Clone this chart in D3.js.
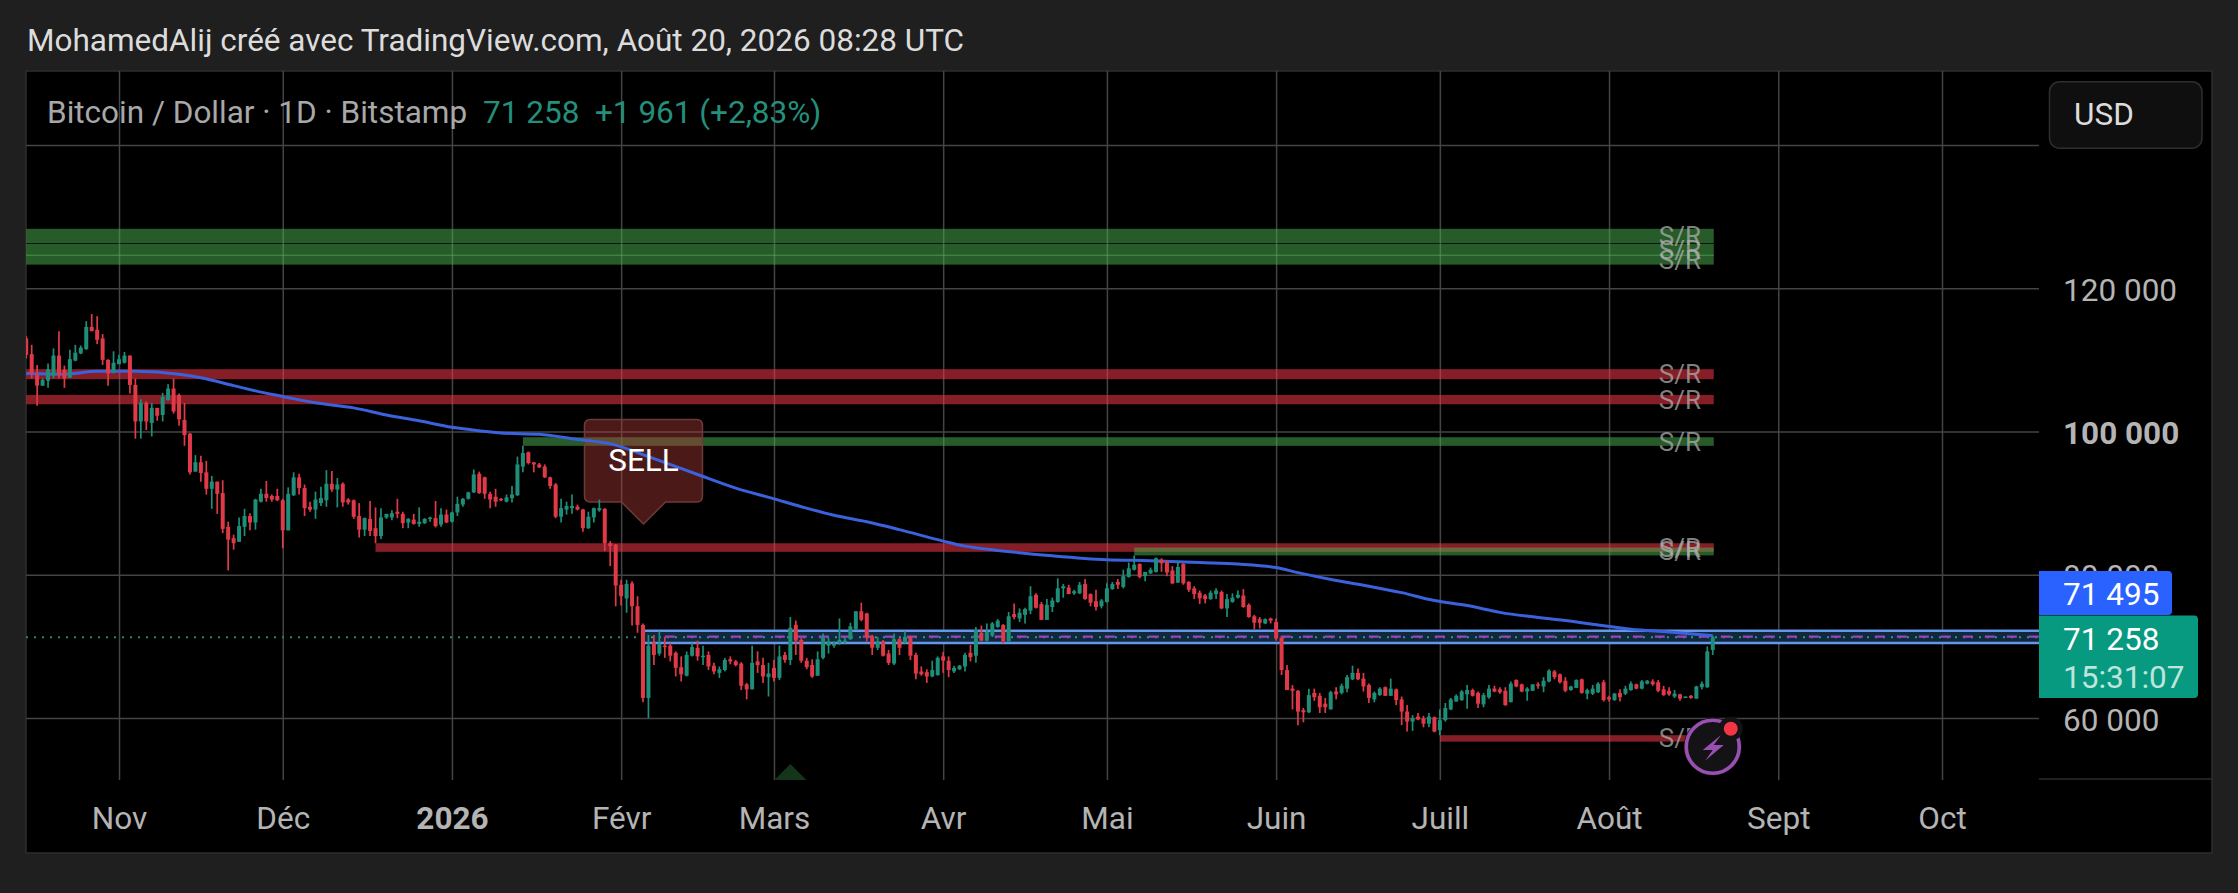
<!DOCTYPE html>
<html lang="fr">
<head>
<meta charset="utf-8">
<title>Bitcoin / Dollar</title>
<script src="https://cdn.jsdelivr.net/npm/d3@7"></script>
<style>
    html, body { margin: 0; padding: 0; background: #1f1f1f; }
    svg { display: block; font-family: Roboto, sans-serif; }
</style>
</head>
<body>
<div id="chart"></div>
<script>
// Daily candles from 2025-10-15, prices in thousand USD
const firstDay = "2025-10-15";
const opens = [
    113.0,110.8,107.9,106.4,107.1,107.8,110.6,108.6,107.5,109.9,
    110.9,111.5,114.6,114.2,113.0,110.0,108.2,109.4,109.6,110.6,
    106.5,101.4,104.0,101.2,103.3,102.3,104.4,106.0,105.1,101.6,
    99.7,94.4,95.7,94.3,92.0,93.0,91.4,86.7,85.1,84.6,
    86.7,88.2,87.3,90.2,91.3,91.0,91.0,90.4,86.2,91.1,
    93.6,92.1,89.5,89.1,90.0,90.4,92.7,91.9,92.7,90.5,
    90.4,88.2,86.3,87.8,86.5,85.4,88.0,88.0,88.8,88.5,
    87.3,87.7,87.1,87.2,87.8,87.9,87.0,88.4,87.4,88.7,
    89.8,90.6,91.5,94.1,93.6,91.3,90.9,90.6,90.2,90.7,
    91.1,95.1,97.1,95.7,95.4,95.1,93.6,92.6,88.1,89.1,
    89.3,89.5,89.1,86.5,88.0,89.0,89.2,84.4,84.2,78.6,
    76.7,78.8,75.6,73.0,62.8,70.5,69.0,70.1,70.1,69.1,
    67.1,65.9,68.7,69.8,68.6,68.8,67.3,66.3,66.7,68.2,
    67.9,67.6,64.7,64.0,67.9,67.4,65.7,67.0,65.6,68.8,
    68.1,73.0,70.9,68.0,67.4,65.9,68.4,70.1,70.1,70.5,
    70.7,71.0,72.4,74.9,74.6,71.4,69.8,70.7,69.0,67.6,
    71.0,70.5,71.3,68.8,66.5,66.4,65.8,66.0,68.6,68.0,
    66.5,66.8,67.2,69.1,68.7,71.9,70.8,71.5,72.7,73.0,
    70.7,74.5,73.9,74.4,75.0,77.2,75.9,73.7,75.5,76.2,
    78.1,78.2,77.4,77.4,78.7,77.3,76.3,75.6,76.2,78.0,
    79.0,78.3,79.7,80.7,81.5,79.8,80.2,80.4,82.1,81.8,
    80.6,78.9,81.5,79.0,78.1,77.5,77.1,76.6,77.3,77.6,
    75.3,76.2,76.8,77.1,75.8,74.2,73.8,73.2,73.9,73.4,
    71.2,66.7,64.1,63.8,61.1,60.8,63.5,63.1,62.0,61.2,
    63.7,63.5,64.1,65.4,66.3,65.5,64.6,62.6,63.2,64.3,
    63.1,64.0,62.6,60.9,59.5,60.2,59.9,59.2,60.1,58.3,
    59.7,61.2,62.3,62.5,63.3,63.9,63.5,61.9,62.9,64.1,
    64.0,63.8,62.2,65.3,64.7,63.7,63.8,64.7,64.4,65.1,
    66.5,66.1,65.2,63.9,64.2,65.4,63.4,63.4,63.6,65.0,
    62.9,62.5,63.5,63.4,63.9,64.7,64.1,64.8,65.1,65.0,
    64.0,63.8,63.0,63.3,62.9,63.1,62.7,64.3,64.3,69.5
];
const highs = [
    113.3,112.1,109.3,107.4,109.5,111.6,114.0,109.2,111.4,112.1,
    112.0,115.4,116.4,116.1,113.6,110.1,111.2,110.7,111.1,110.6,
    107.4,104.5,104.2,104.0,103.3,105.4,106.6,107.4,105.3,104.0,
    99.8,96.7,96.6,95.9,93.8,93.0,93.2,87.4,85.6,88.0,
    89.2,88.6,90.6,92.0,93.1,91.2,92.0,90.6,92.2,94.3,
    94.1,92.6,90.2,91.6,92.3,94.6,94.5,93.5,92.9,90.7,
    90.5,90.0,88.0,90.3,89.4,89.3,88.5,89.0,90.6,88.8,
    87.9,88.5,89.4,87.9,88.1,90.3,89.3,89.1,88.8,90.9,
    90.7,91.6,94.7,94.4,93.7,91.6,92.0,90.7,91.2,92.4,
    96.5,98.0,97.2,95.7,95.6,95.4,93.7,92.8,90.6,90.2,
    91.2,89.8,89.2,88.8,89.4,90.5,89.3,84.7,84.3,79.3,
    79.3,79.1,77.0,73.2,71.6,71.6,72.1,71.3,70.5,69.3,
    68.6,69.3,70.5,70.8,70.1,69.3,67.7,67.2,68.4,68.6,
    68.1,67.8,64.9,70.1,69.3,68.4,67.7,68.1,70.1,69.2,
    74.1,73.6,71.2,68.4,68.2,69.3,71.8,71.2,70.7,73.9,
    71.3,73.3,74.9,76.1,74.7,71.6,71.3,70.9,69.5,71.8,
    71.2,72.1,71.4,69.1,67.2,66.8,68.0,68.6,69.2,68.6,
    67.3,67.4,69.1,70.2,72.7,72.9,73.2,73.4,73.8,73.1,
    74.8,76.0,75.3,75.4,78.4,77.4,76.2,76.6,76.8,79.5,
    78.7,78.6,77.9,79.0,79.4,77.4,77.9,76.6,78.8,79.0,
    79.4,80.7,81.7,82.7,81.6,80.4,81.0,82.4,82.3,82.0,
    81.2,81.9,81.6,79.1,78.4,77.8,77.3,77.8,78.1,77.8,
    77.3,77.4,77.8,78.0,76.0,74.4,74.1,73.9,74.0,73.9,
    71.4,67.4,64.6,63.9,61.4,64.1,64.1,63.5,62.8,63.8,
    64.3,64.8,66.0,67.3,66.9,66.3,64.8,63.7,64.3,64.4,
    65.5,64.1,63.0,61.8,60.4,60.7,60.3,60.7,60.2,61.2,
    62.1,62.8,63.3,63.9,64.6,64.1,63.7,63.5,64.6,64.5,
    64.3,64.3,65.1,65.4,64.8,64.3,64.7,65.0,65.7,66.8,
    66.7,66.2,65.7,64.5,65.4,65.5,64.1,64.6,65.0,65.3,
    63.1,63.5,64.0,64.5,65.1,64.8,65.3,65.3,65.4,65.3,
    64.5,64.3,63.9,63.4,63.0,63.2,64.5,65.1,70.0,71.5
];
const lows = [
    110.2,107.4,103.6,106.4,106.1,107.4,107.4,106.1,107.5,109.8,
    110.8,111.4,114.0,112.2,109.3,106.4,108.1,109.4,109.5,105.3,
    99.0,99.0,100.2,99.3,101.5,101.4,104.3,102.5,100.8,98.0,
    94.0,94.4,93.0,91.2,89.2,88.5,85.8,80.6,83.5,84.6,
    85.4,86.2,86.3,90.1,90.2,90.2,90.3,83.7,86.2,91.0,
    91.2,88.2,88.8,87.8,89.6,89.5,91.6,89.4,89.5,89.8,
    87.8,85.2,85.4,85.4,84.4,85.0,87.8,87.6,87.9,86.5,
    86.5,87.0,86.7,87.1,87.4,86.6,86.7,87.2,87.3,88.2,
    89.5,90.5,91.4,91.3,90.6,89.3,89.5,90.3,90.1,90.1,
    91.0,94.3,95.4,94.3,94.9,93.5,92.0,87.9,87.3,88.4,
    88.5,89.0,86.0,86.4,87.3,88.8,83.3,81.2,75.6,75.7,
    74.7,72.9,71.9,62.2,60.0,67.4,68.7,68.4,67.9,65.8,
    65.1,65.8,68.6,68.0,67.4,66.7,66.1,65.6,66.5,67.5,
    67.2,63.9,62.6,64.0,66.3,64.9,63.0,65.1,65.3,67.7,
    67.4,68.8,67.7,66.8,65.6,65.9,68.2,69.0,69.8,70.2,
    70.4,70.9,72.3,73.5,70.7,68.8,69.5,68.6,67.4,67.4,
    68.8,70.4,68.1,65.4,65.9,64.9,65.7,65.9,66.3,65.7,
    66.3,66.7,66.5,67.9,67.7,70.7,70.7,71.3,72.6,70.4,
    70.7,73.8,73.4,73.2,74.5,75.3,73.7,73.7,74.8,76.1,
    76.8,77.3,77.2,77.3,76.5,75.6,75.0,75.3,76.1,77.9,
    78.0,78.1,79.6,80.6,79.5,79.1,80.1,80.3,80.4,79.8,
    78.7,78.9,78.6,77.6,76.6,75.9,76.0,76.5,76.6,75.2,
    74.1,76.1,76.7,75.4,74.0,72.4,72.5,73.1,73.2,70.8,
    66.0,63.9,61.2,59.0,59.4,60.7,62.4,60.7,60.7,61.2,
    62.6,63.3,63.6,65.3,65.3,63.7,62.1,62.2,63.1,63.1,
    63.1,61.8,59.0,58.1,58.2,59.7,58.7,58.7,58.0,57.6,
    59.5,61.1,62.3,62.4,61.3,63.0,61.4,61.5,62.7,63.6,
    63.4,61.7,62.2,64.3,63.6,62.4,63.8,64.1,63.6,65.0,
    65.4,64.8,63.6,63.8,64.2,63.4,62.6,63.2,63.5,62.3,
    62.3,62.4,62.3,63.2,63.8,64.0,64.0,64.7,64.5,63.6,
    63.1,63.1,62.8,62.4,62.9,62.7,62.7,64.0,64.2,68.8
];
const closes = [
    110.7,108.1,106.4,107.2,108.7,110.6,107.9,107.4,110.1,111.0,
    111.7,114.6,114.0,112.8,110.0,108.1,109.6,110.1,110.6,106.5,
    101.4,104.0,101.4,103.3,102.2,104.8,106.0,102.8,101.7,99.5,
    94.3,95.7,94.2,92.0,93.0,91.3,86.4,84.9,84.4,86.8,
    88.2,87.3,90.5,91.3,90.7,90.5,90.4,86.2,91.3,93.6,
    92.1,89.3,89.1,90.5,90.7,92.7,91.9,92.6,90.1,90.1,
    88.1,86.3,87.9,86.1,85.4,88.0,88.5,88.6,88.5,87.2,
    87.8,87.1,87.4,87.8,88.0,86.8,88.4,87.3,88.7,89.9,
    90.6,91.5,94.0,91.4,91.3,90.5,90.2,90.4,90.8,91.2,
    95.4,97.0,95.6,95.4,95.0,93.6,92.4,88.1,89.3,89.6,
    89.6,89.1,86.5,88.1,89.3,89.3,84.4,84.0,78.5,77.0,
    78.7,75.6,73.0,62.8,70.1,68.8,70.3,69.9,68.7,67.0,
    66.1,68.8,69.9,68.6,68.7,67.2,66.5,66.8,68.1,67.9,
    67.4,64.5,64.0,67.7,67.4,65.8,66.2,65.6,68.6,68.1,
    72.6,70.8,68.0,67.1,65.8,68.2,71.2,70.7,70.4,70.9,
    70.8,72.8,74.9,73.7,71.3,69.8,70.7,68.7,67.7,71.0,
    69.8,71.3,68.7,66.2,66.1,65.8,66.7,68.4,68.0,66.7,
    67.0,67.3,68.8,68.5,72.3,70.8,72.0,73.2,73.6,70.7,
    74.2,74.1,74.7,75.2,77.0,75.4,73.7,75.8,76.4,78.1,
    78.4,77.3,77.7,78.6,76.6,76.1,75.5,76.4,78.1,78.7,
    78.6,79.8,80.9,81.4,79.7,80.4,80.7,82.3,81.6,80.3,
    78.8,81.1,78.8,77.9,77.3,76.7,76.6,77.5,77.8,75.3,
    76.6,76.8,77.2,75.5,74.1,73.3,73.3,73.8,73.6,71.1,
    66.7,63.9,63.8,60.9,60.8,63.2,62.9,61.5,61.5,63.6,
    63.3,64.5,65.7,66.3,65.4,64.4,62.8,63.5,64.1,63.1,
    64.1,62.5,60.9,59.5,60.0,59.8,59.2,60.2,58.1,59.7,
    61.4,62.6,63.1,63.7,63.9,63.1,62.0,63.2,64.1,63.7,
    63.6,61.8,64.8,64.4,63.7,64.1,64.7,64.5,65.2,66.6,
    65.7,65.0,63.8,64.4,65.3,63.5,63.9,64.1,64.8,62.5,
    62.6,63.4,62.9,64.1,64.8,64.1,65.1,65.2,64.7,63.8,
    63.2,63.3,63.4,62.7,63.0,62.8,64.4,64.8,69.3,71.26
];

// Moving average, read at these candle numbers
const emaDays = [0,7,13,20,28,32,38,43,47,53,60,66,72,78,81,87,94,100,108,114,123,130,137,142,148,154,160,168,172,178,188,198,206,215,222,229,233,240,246,252,258,264,270,282,294,301,309];
const emaValues = [108.1,108.0,108.4,108.4,108.0,107.5,106.4,105.5,104.9,104.0,103.3,102.3,101.5,100.6,100.3,99.8,99.6,99.0,98.1,96.5,94.0,92.1,90.6,89.5,88.3,87.4,86.3,84.7,84.0,83.4,82.65,82.1,81.96,81.7,81.5,81.0,80.3,79.2,78.4,77.5,76.4,75.7,74.75,73.6,72.4,72.0,71.495];

// S/R zones
const srTops = [128.3,126.2,124.7,108.7,105.1,99.2,84.4,83.8,57.6];
const srBottoms = [126.3,124.5,123.3,107.3,103.8,98.0,83.2,82.7,56.7];
const srStarts = [0,0,0,0,0,91,64,203,259];
const srKinds = ["up","up","up","down","down","up","down","up","down"];

// Range box around the last price
const rangeTop = 72.19, rangeBottom = 70.47, rangeMid = 71.35;
const rangeStart = 113, rangeMidStart = 117;

const lastPrice = 71.258;
const emaLast = "71 495";
const closeLabel = "71 258";
const countdown = "15:31:07";
const signalDay = "2026-03-04";
const sellDay = 113;

const priceTicks = [140, 120, 100, 80, 60];
const boldPrice = 100;
const monthTicks = ["2025-11-01","2025-12-01","2026-01-01","2026-02-01","2026-03-01","2026-04-01","2026-05-01","2026-06-01","2026-07-01","2026-08-01","2026-09-01","2026-10-01"];
const monthLabels = ["Nov","Déc","2026","Févr","Mars","Avr","Mai","Juin","Juill","Août","Sept","Oct"];

const width = 2238, height = 893;
const pane = { left: 26, right: 2039, top: 71, bottom: 780, outer: 2212, frameBottom: 853 };
const labelSize = 31.5;

const parseDay = d3.utcParse("%Y-%m-%d");
const dayOf = i => d3.utcDay.offset(parseDay(firstDay), i);

const x = d3.scaleUtc()
    .domain([parseDay("2025-11-01"), parseDay("2026-10-01")])
    .range([119, 1942]);
const y = d3.scaleLinear()
    .domain([60, 140])
    .range([718, 145]);

const formatPrice = k => d3.format(",")(k * 1000).replace(",", " ");

const svg = d3.select("#chart").append("svg")
    .attr("width", width)
    .attr("height", height)
    .attr("viewBox", [0, 0, width, height]);

svg.append("rect").attr("width", width).attr("height", height).attr("fill", "#1f1f1f");

svg.append("text")
    .attr("x", 27).attr("y", 51)
    .attr("font-size", labelSize).attr("fill", "#dcdcdc")
    .text("MohamedAlij créé avec TradingView.com, Août 20, 2026 08:28 UTC");

svg.append("rect")
    .attr("x", pane.left).attr("y", pane.top)
    .attr("width", pane.outer - pane.left).attr("height", pane.frameBottom - pane.top)
    .attr("fill", "#000").attr("stroke", "#2e2e2e").attr("stroke-width", 1.5);

svg.append("clipPath").attr("id", "paneClip").append("rect")
    .attr("x", pane.left).attr("y", pane.top)
    .attr("width", pane.right - pane.left).attr("height", pane.bottom - pane.top);

// Grid, drawn by the axes themselves
const monthDates = monthTicks.map(parseDay);
svg.append("g")
    .attr("transform", `translate(0,${pane.bottom})`)
    .call(d3.axisBottom(x).tickValues(monthDates).tickSize(-(pane.bottom - pane.top)).tickFormat(""))
    .call(g => g.select(".domain").remove())
    .call(g => g.selectAll("line").attr("stroke", "#444").attr("stroke-width", 1.5));
svg.append("g")
    .attr("transform", `translate(${pane.right},0)`)
    .call(d3.axisLeft(y).tickValues(priceTicks).tickSize(pane.right - pane.left).tickFormat(""))
    .call(g => g.select(".domain").remove())
    .call(g => g.selectAll("line").attr("stroke", "#444").attr("stroke-width", 1.5));

const plot = svg.append("g").attr("clip-path", "url(#paneClip)");

const signalX = x(parseDay(signalDay));
plot.append("path")
    .attr("d", `M${signalX - 16},${pane.bottom} L${signalX},${pane.bottom - 16} L${signalX + 16},${pane.bottom} Z`)
    .attr("fill", "#14351a");

// Last price dotted line
plot.append("line")
    .attr("x1", pane.left).attr("x2", pane.right)
    .attr("y1", y(lastPrice)).attr("y2", y(lastPrice))
    .attr("stroke", "#2b8272").attr("stroke-width", 2).attr("stroke-dasharray", "2 6");

// S/R zones
const lastX = x(dayOf(opens.length - 1));
const srColors = { up: "rgba(76,175,80,0.52)", down: "rgba(242,54,69,0.55)" };
plot.selectAll("rect.sr")
    .data(srTops)
    .join("rect")
    .attr("class", "sr")
    .attr("x", (d, i) => x(dayOf(srStarts[i])))
    .attr("y", d => y(d))
    .attr("width", (d, i) => lastX + 1 - x(dayOf(srStarts[i])))
    .attr("height", (d, i) => y(srBottoms[i]) - y(d))
    .attr("fill", (d, i) => srColors[srKinds[i]]);

// Range box
const rangeX = x(dayOf(rangeStart));
plot.append("rect")
    .attr("x", rangeX).attr("y", y(rangeTop))
    .attr("width", pane.right - rangeX).attr("height", y(rangeBottom) - y(rangeTop))
    .attr("fill", "#10283c");
plot.selectAll("line.rangeEdge")
    .data([rangeTop, rangeBottom])
    .join("line")
    .attr("class", "rangeEdge")
    .attr("x1", rangeX).attr("x2", pane.right)
    .attr("y1", d => y(d)).attr("y2", d => y(d))
    .attr("stroke", "#6596ea").attr("stroke-width", 2.6);
plot.append("line")
    .attr("x1", rangeX).attr("x2", pane.right)
    .attr("y1", y(lastPrice)).attr("y2", y(lastPrice))
    .attr("stroke", "#2b9a86").attr("stroke-width", 2).attr("stroke-dasharray", "2 6");
plot.append("line")
    .attr("x1", x(dayOf(rangeMidStart))).attr("x2", pane.right)
    .attr("y1", y(rangeMid)).attr("y2", y(rangeMid))
    .attr("stroke", "#9a42bc").attr("stroke-width", 2.2).attr("stroke-dasharray", "10 12");

// SELL callout, hanging from the sell day
const sellX = x(dayOf(sellDay)) + 0.5;
const box = { left: sellX - 59, right: sellX + 59, top: 419.5, bottom: 502, tip: 524 };
plot.append("path")
    .attr("d", `M${box.left + 6},${box.top} H${box.right - 6} Q${box.right},${box.top} ${box.right},${box.top + 6}
        V${box.bottom - 6} Q${box.right},${box.bottom} ${box.right - 6},${box.bottom} H${sellX + 22}
        L${sellX},${box.tip} L${sellX - 22},${box.bottom} H${box.left + 6}
        Q${box.left},${box.bottom} ${box.left},${box.bottom - 6} V${box.top + 6} Q${box.left},${box.top} ${box.left + 6},${box.top} Z`)
    .attr("fill", "rgba(178,62,58,0.42)")
    .attr("stroke", "#6e3a36").attr("stroke-width", 1.5);

// Moving average
const emaLine = d3.line()
    .x((d, i) => x(dayOf(emaDays[i])))
    .y(d => y(d))
    .curve(d3.curveMonotoneX);
plot.append("path")
    .datum(emaValues)
    .attr("d", emaLine)
    .attr("fill", "none").attr("stroke", "#3b62dc").attr("stroke-width", 3);

// Candles
const upColor = "#1f8e78", downColor = "#e03a49";
const candles = plot.selectAll("g.candle")
    .data(opens.map((o, i) => i))
    .join("g")
    .attr("class", "candle")
    .attr("fill", i => closes[i] >= opens[i] ? upColor : downColor)
    .attr("stroke", i => closes[i] >= opens[i] ? upColor : downColor);
candles.append("line")
    .attr("x1", i => x(dayOf(i))).attr("x2", i => x(dayOf(i)))
    .attr("y1", i => y(highs[i])).attr("y2", i => y(lows[i]))
    .attr("stroke-width", 1.7);
candles.append("rect")
    .attr("x", i => x(dayOf(i)) - 2)
    .attr("width", 4)
    .attr("y", i => y(Math.max(opens[i], closes[i])))
    .attr("height", i => Math.max(1.5, Math.abs(y(opens[i]) - y(closes[i]))))
    .attr("stroke", "none");

// S/R captions sit over the right end of each zone
plot.selectAll("text.sr")
    .data(srTops)
    .join("text")
    .attr("class", "sr")
    .attr("x", lastX - 54)
    .attr("y", (d, i) => (y(d) + y(srBottoms[i])) / 2 + 9)
    .attr("font-size", 26).attr("fill", "rgba(178,178,178,0.72)")
    .text("S/R");

plot.append("text")
    .attr("x", sellX).attr("y", 471)
    .attr("text-anchor", "middle").attr("font-size", labelSize).attr("fill", "#fff")
    .text("SELL");

// Alert badge over the last candle
const badge = svg.append("g").attr("transform", `translate(${lastX},746.7)`);
badge.append("circle").attr("r", 29).attr("fill", "#131214");
badge.append("circle").attr("r", 26.5).attr("fill", "none").attr("stroke", "#9a4fb2").attr("stroke-width", 3.6);
badge.append("path")
    .attr("d", "M8.3,-11.7 L-10,3.3 L0,3.3 L-7.7,14 L11,-1.7 L1,-1.7 Z")
    .attr("fill", "#9a4fb2");
badge.append("circle").attr("cx", 18).attr("cy", -18).attr("r", 12).attr("fill", "#131214");
badge.append("circle").attr("cx", 18).attr("cy", -18).attr("r", 7).attr("fill", "#f23645");

// Price axis
svg.append("line")
    .attr("x1", pane.right).attr("x2", pane.outer)
    .attr("y1", pane.bottom - 1).attr("y2", pane.bottom - 1)
    .attr("stroke", "#2e2e2e").attr("stroke-width", 1.5);
svg.append("g")
    .attr("transform", "translate(2063,0)")
    .call(d3.axisRight(y).tickValues(priceTicks.slice(1)).tickSize(0).tickPadding(0).tickFormat(formatPrice))
    .call(g => g.select(".domain").remove())
    .call(g => g.selectAll("text")
        .attr("dy", 12)
        .attr("font-family", "Roboto, sans-serif")
        .attr("font-size", labelSize)
        .attr("font-weight", d => d === boldPrice ? 700 : 400)
        .attr("fill", "#b4b4b4"));

// Time axis
svg.append("g")
    .attr("transform", `translate(0,829)`)
    .call(d3.axisBottom(x).tickValues(monthDates).tickSize(0).tickPadding(0)
        .tickFormat((d, i) => monthLabels[i]))
    .call(g => g.select(".domain").remove())
    .call(g => g.selectAll("text")
        .attr("dy", 0)
        .attr("y", 0)
        .attr("font-family", "Roboto, sans-serif")
        .attr("font-size", labelSize)
        .attr("font-weight", (d, i) => monthLabels[i] === "2026" ? 700 : 400)
        .attr("fill", "#b4b4b4"));

// Legend
svg.append("text")
    .attr("x", 47).attr("y", 123)
    .attr("font-size", labelSize).attr("fill", "#a8a8a8")
    .text("Bitcoin / Dollar · 1D · Bitstamp");
svg.append("text")
    .attr("x", 483).attr("y", 123)
    .attr("font-size", labelSize).attr("fill", "#258f7c")
    .text("71 258");
svg.append("text")
    .attr("x", 595).attr("y", 123)
    .attr("font-size", labelSize).attr("fill", "#258f7c")
    .text("+1 961 (+2,83%)");

// Currency button
svg.append("rect")
    .attr("x", 2049.5).attr("y", 81.7).attr("width", 152.5).attr("height", 66.5).attr("rx", 10)
    .attr("fill", "#0f0f0f").attr("stroke", "#2e2e2e").attr("stroke-width", 1.5);
svg.append("text")
    .attr("x", 2074).attr("y", 125)
    .attr("font-size", labelSize).attr("fill", "#dcdcdc")
    .text("USD");

// Price tags
svg.append("path")
    .attr("d", "M2039,571 H2168 Q2172,571 2172,575 V611 Q2172,615 2168,615 H2039 Z")
    .attr("fill", "#2962ff");
svg.append("text")
    .attr("x", 2063).attr("y", 604.5)
    .attr("font-size", labelSize).attr("fill", "#fff")
    .text(emaLast);
svg.append("path")
    .attr("d", "M2039,615.5 H2194 Q2198,615.5 2198,619.5 V694 Q2198,698 2194,698 H2039 Z")
    .attr("fill", "#089981");
svg.append("text")
    .attr("x", 2063).attr("y", 650)
    .attr("font-size", labelSize).attr("fill", "#fff")
    .text(closeLabel);
svg.append("text")
    .attr("x", 2063).attr("y", 688)
    .attr("font-size", labelSize).attr("fill", "#bde5dc")
    .text(countdown);
</script>
</body>
</html>
